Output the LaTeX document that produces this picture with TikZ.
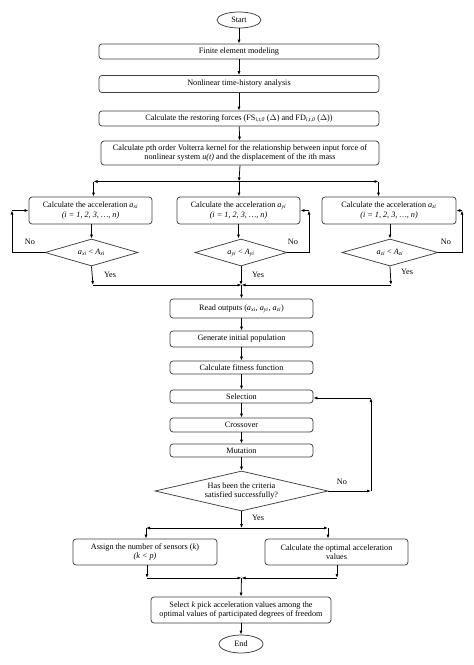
\documentclass[tikz,border=0pt]{standalone}
\usepackage{fontspec}
\setmainfont{Liberation Serif}
\usetikzlibrary{shapes.geometric,arrows.meta}
\newcommand{\myacc}[1]{\textit{a}\textsubscript{\textit{#1}}}
\newcommand{\myAcc}[1]{\textit{A}\textsubscript{\textit{#1}}}
\begin{document}
\begin{tikzpicture}[x=1pt,y=-1pt, font=\fontsize{8.2}{9.6}\selectfont,
 box/.style={draw=black!75, line width=0.75pt, rounded corners=3pt, inner sep=1pt, align=center},
 dia/.style={draw=black!75, line width=0.75pt, diamond, aspect=3.5, inner sep=0pt, align=center},
 term/.style={draw=black!75, line width=0.75pt, ellipse, inner sep=0pt},
 arr/.style={draw=black, line width=0.75pt, -{Latex[length=4pt,width=3pt]}},
 lbl/.style={inner sep=0pt}]
\useasboundingbox (0,0) rectangle (474,665);
\fill[white] (0,0) rectangle (474,665);
% top column
\node[term, minimum width=44pt, minimum height=16pt] (start) at (239,20) {Start};
\node[box, minimum width=280pt, minimum height=15pt] (fem) at (239,51.5) {Finite element modeling};
\node[box, minimum width=280pt, minimum height=17pt] (nl) at (239,84) {Nonlinear time-history analysis};
\node[box, minimum width=280pt, minimum height=15pt] (rest) at (239,118.5) {Calculate the restoring forces (FS\textsubscript{\textit{i,t,0}} ($\Delta$) and FD\textsubscript{\textit{i,t,0}} ($\Delta$))};
\node[box, minimum width=278pt, minimum height=24pt] (volt) at (240,153) {Calculate \textit{p}th order Volterra kernel for the relationship between input force of\\ nonlinear system \textit{u(t)} and the displacement of the \textit{i}th mass};
% branches
\coordinate (j1) at (239,181.5);
\coordinate (jl) at (93.5,181.5);
\coordinate (jr) at (378.5,181.5);
\node[box, minimum width=123pt, minimum height=27pt] (bx) at (90.5,210.5) {Calculate the acceleration \myacc{xi}\\ \textit{(i = 1, 2, 3, \dots, n)}};
\node[box, minimum width=123pt, minimum height=27pt] (by) at (238.5,210.5) {Calculate the acceleration \myacc{yi}\\ \textit{(i = 1, 2, 3, \dots, n)}};
\node[box, minimum width=134pt, minimum height=27pt] (bz) at (389,210.5) {Calculate the acceleration \myacc{zi}\\ \textit{(i = 1, 2, 3, \dots, n)}};
\node[dia, minimum width=93pt, minimum height=27pt] (dx) at (91.5,252.5) {\myacc{xi} < \myAcc{xi}};
\node[dia, minimum width=92pt, minimum height=27pt] (dy) at (241,252.5) {\myacc{yi} < \myAcc{yi}};
\node[dia, minimum width=96pt, minimum height=27pt] (dz) at (390,252.5) {\myacc{zi} < \myAcc{zi}};
\coordinate (cxl) at (12,210.5);
\coordinate (cyr) at (309,210.5);
\coordinate (czr) at (462,210.5);
\coordinate (j2) at (241.5,285);
\coordinate (yl) at (93,285);
\coordinate (yr) at (391,285);
% lower column
\node[box, minimum width=143pt, minimum height=19pt] (read) at (241.5,308.5) {Read outputs (\myacc{xi}, \myacc{yi}, \myacc{zi})};
\node[box, minimum width=143pt, minimum height=16pt] (gen) at (241.5,339) {Generate initial population};
\node[box, minimum width=143pt, minimum height=13pt] (fit) at (241.5,367.5) {Calculate fitness function};
\node[box, minimum width=143pt, minimum height=13pt] (sel) at (241.5,396.5) {Selection};
\node[box, minimum width=143pt, minimum height=14pt] (cross) at (241.5,425) {Crossover};
\node[box, minimum width=143pt, minimum height=13pt] (mut) at (241.5,450.5) {Mutation};
\node[dia, aspect=4.3, minimum width=173pt, minimum height=40pt] (crit) at (241.5,491) {Has been the criteria\\ satisfied successfully?};
\coordinate (cn) at (371,491);
\coordinate (cs) at (371,398);
\coordinate (j3) at (241.5,528);
\coordinate (bl) at (146,528);
\coordinate (br) at (328,528);
\node[box, minimum width=144pt, minimum height=26pt] (assign) at (145,552) {Assign the number of sensors (\textit{k})\\ \textit{(k < p)}};
\node[box, minimum width=143pt, minimum height=26pt] (opt) at (336.5,552) {Calculate the optimal acceleration\\ values};
\coordinate (ml) at (147,578);
\coordinate (mr) at (337,578);
\coordinate (j4) at (241.5,578);
\node[box, minimum width=180pt, minimum height=26pt] (select) at (241,610) {Select \textit{k} pick acceleration values among the\\ optimal values of participated degrees of freedom};
\node[term, minimum width=44pt, minimum height=18pt] (end) at (241,644) {End};
% connectors top
\draw[arr] (start) -- (fem);
\draw[arr] (fem) -- (nl);
\draw[arr] (nl) -- (rest);
\draw[arr] (rest) -- (volt);
\draw[arr] (volt.south) -- (j1);
\draw[arr] (j1) -- (jl);
\draw[arr] (j1) -- (jr);
\draw[arr] (jl) -- (jl |- bx.north);
\draw[arr] (j1) -- (j1 |- by.north);
\draw[arr] (jr) -- (jr |- bz.north);
\draw[arr] (bx.south -| dx.north) -- (dx.north);
\draw[arr] (by.south) -- (by.south |- dy.north);
\draw[arr] (bz.south -| dz.north) -- (dz.north);
% no loops
\draw[arr] (dx.west) -| (cxl);
\draw[arr] (cxl) -- (bx.west);
\draw[arr] (dy.east) -| (cyr);
\draw[arr] (cyr) -- (by.east);
\draw[arr] (dz.east) -| (czr);
\draw[arr] (czr) -- (bz.east);
\node[lbl] (nox) at (30,242) {No};
\node[lbl] (noy) at (293,242) {No};
\node[lbl] (noz) at (446,242) {No};
% yes merge
\draw[arr] (dx.south) -- (yl);
\draw[arr] (yl) -- (j2);
\draw[arr] (dy.south) -- (dy.south |- j2);
\draw[arr] (dz.south) -- (yr);
\draw[arr] (yr) -- (j2);
\draw[arr] (j2) -- (read.north);
\node[lbl] (yesx) at (110,275) {Yes};
\node[lbl] (yesy) at (258,275) {Yes};
\node[lbl] (yesz) at (407,272) {Yes};
% GA column
\draw[arr] (read) -- (gen);
\draw[arr] (gen) -- (fit);
\draw[arr] (fit) -- (sel);
\draw[arr] (sel) -- (cross);
\draw[arr] (cross) -- (mut);
\draw[arr] (mut) -- (crit);
\draw[arr] (crit.east) -- (cn);
\draw[arr] (cn) -- (cs);
\draw[arr] (cs) -- (sel.east |- cs);
\node[lbl] (nocrit) at (342,482) {No};
\node[lbl] (yescrit) at (258,518) {Yes};
% final part
\draw[arr] (crit.south) -- (j3);
\draw[arr] (j3) -- (bl);
\draw[arr] (j3) -- (br);
\draw[arr] (bl) -- (bl |- assign.north);
\draw[arr] (br) -- (br |- opt.north);
\draw[arr] (assign.south -| ml) -- (ml);
\draw[arr] (ml) -- (j4);
\draw[arr] (opt.south -| mr) -- (mr);
\draw[arr] (mr) -- (j4);
\draw[arr] (j4) -- (select.north);
\draw[arr] (select) -- (end);
\end{tikzpicture}
\end{document}
